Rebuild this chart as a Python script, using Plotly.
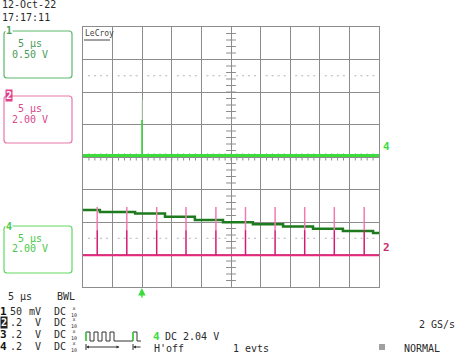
import plotly.graph_objects as go

W, H = 474, 355
GX0, GX1, GY0, GY1 = 83, 379, 27, 287  # graticule box (pixels)

# ---------------- data (screen divisions) ----------------
x_divisions = 10
y_divisions = 8

ch1_time = [0.0, 10.0]
ch1_level = [4.05, 4.05]
ch1_glitch_time = [1.99]
ch1_glitch_peak = [5.14]
ch1_glitch_ghost = [5.75]

ch4_time = [0.0, 0.57, 1.76, 2.77, 3.78, 4.73, 5.74, 6.76, 7.77, 8.78, 9.80, 10.0]
ch4_level = [2.37, 2.31, 2.26, 2.16, 2.06, 1.99, 1.93, 1.86, 1.79, 1.72, 1.66, 1.66]

ch2_time = [0.0, 10.0]
ch2_level = [0.98, 0.98]
ch2_pulse_time = [0.48, 1.48, 2.49, 3.48, 4.49, 5.49, 6.49, 7.49, 8.49, 9.50]
ch2_pulse_core = 1.75
ch2_pulse_peak = 2.46

ch1_offset_marker = 5.06
ch4_label_level = 4.31
ch2_label_level = 1.23
trigger_time = 1.99
cursor_levels = [6.5, 1.5]

date_text = "12-Oct-22"
clock_text = "17:17:11"
timebase_text = "5 µs"
box_scales = ["0.50 V", "2.00 V", "2.00 V"]
chan_rows = [("1", "50", "mV"), ("2", ".2", "V"), ("3", ".2", "V"), ("4", ".2", "V")]

# ---------------- colours ----------------
GRID = "#8c8c8c"
G1 = "#3ddc3d"
G4 = "#1d7a1d"
PINK = "#e8287e"
PINK_CORE = "#d41a72"
PINK_TOP = "#f27ab2"
TXT = "#2a2a2a"


def px(x):
    return x / W


def py(y):
    return 1 - y / H


def div_to_py(v):
    # vertical division -> paper fraction
    return py(GY1) + (py(GY0) - py(GY1)) * v / y_divisions


fig = go.Figure()

# graticule centre ticks
tick_pos_x = [i * 0.2 for i in range(1, x_divisions * 5)]
tick_pos_y = [i * 0.2 for i in range(1, y_divisions * 5)]
fig.add_trace(go.Scatter(x=tick_pos_x, y=[y_divisions / 2] * len(tick_pos_x), mode="markers",
                         marker=dict(symbol="line-ns", size=5, line=dict(width=1, color=GRID)),
                         hoverinfo="skip"))
fig.add_trace(go.Scatter(x=[x_divisions / 2] * len(tick_pos_y), y=tick_pos_y, mode="markers",
                         marker=dict(symbol="line-ew", size=7, line=dict(width=1, color=GRID)),
                         hoverinfo="skip"))

# dotted cursor lines
for lvl in cursor_levels:
    xs, ys = [], []
    for i in range(x_divisions):
        xs += [i + 0.17, i + 0.86, None]
        ys += [lvl, lvl, None]
    fig.add_trace(go.Scatter(x=xs, y=ys, mode="lines",
                             line=dict(color="#b4b4b4", width=1, dash="2px,4px"),
                             hoverinfo="skip"))

# channel 4 (dark green staircase)
fig.add_trace(go.Scatter(x=ch4_time, y=ch4_level, mode="lines", line_shape="hv",
                         line=dict(color=G4, width=2.5)))

# channel 2 baseline + pulses
fig.add_trace(go.Scatter(x=ch2_time, y=ch2_level, mode="lines", line=dict(color=PINK, width=2)))
sx, sy_core, sy_top = [], [], []
for t in ch2_pulse_time:
    sx += [t, t, None]
    sy_core += [ch2_level[0], ch2_pulse_core, None]
    sy_top += [ch2_pulse_core, ch2_pulse_peak, None]
fig.add_trace(go.Scatter(x=sx, y=sy_top, mode="lines", line=dict(color=PINK_TOP, width=1.5)))
fig.add_trace(go.Scatter(x=sx, y=sy_core, mode="lines", line=dict(color=PINK_CORE, width=1.5)))

# channel 1 (bright green)
fig.add_trace(go.Scatter(x=ch1_time, y=ch1_level, mode="lines", line=dict(color=G1, width=3)))
fig.add_trace(go.Scatter(x=ch1_glitch_time * 2, y=[ch1_glitch_peak[0], ch1_glitch_ghost[0]], mode="lines",
                         line=dict(color="#d4f4d4", width=1)))
fig.add_trace(go.Scatter(x=ch1_glitch_time * 2, y=[ch1_level[0], ch1_glitch_peak[0]], mode="lines",
                         line=dict(color=G1, width=1.5)))

# level markers outside the graticule
fig.add_trace(go.Scatter(x=[-0.11], y=[ch1_offset_marker], mode="markers", cliponaxis=False,
                         marker=dict(symbol="triangle-right", size=6, color=G1)))
fig.add_trace(go.Scatter(x=[x_divisions + 0.11], y=[ch1_offset_marker], mode="markers", cliponaxis=False,
                         marker=dict(symbol="triangle-left", size=6, color=G1)))

fig.update_layout(
    width=W, height=H, margin=dict(l=0, r=0, t=0, b=0),
    paper_bgcolor="white", plot_bgcolor="white", showlegend=False,
    xaxis=dict(domain=[px(GX0), px(GX1)], range=[0, x_divisions], dtick=1, tick0=0,
               showgrid=True, gridcolor=GRID, gridwidth=1, showticklabels=False, ticks="",
               zeroline=False, showline=True, linecolor=GRID, linewidth=1, mirror=True, fixedrange=True),
    yaxis=dict(domain=[py(GY1), py(GY0)], range=[0, y_divisions], dtick=1, tick0=0,
               showgrid=True, gridcolor=GRID, gridwidth=1, showticklabels=False, ticks="",
               zeroline=False, showline=True, linecolor=GRID, linewidth=1, mirror=True, fixedrange=True),
)

FONT = "DejaVu Sans Mono"
anns = []
shapes = []


def txt(text, x, y, color=TXT, size=10, xanchor="left", bg=None, yanchor="middle"):
    d = dict(text=text, x=px(x), y=py(y), xref="paper", yref="paper", showarrow=False,
             xanchor=xanchor, yanchor=yanchor, font=dict(family=FONT, size=size, color=color),
             borderpad=0)
    if bg:
        d["bgcolor"] = bg
    anns.append(d)


def rbox(x0, y0, x1, y1, color, r=3):
    rx, ry = r / W, r / H
    X0, X1, Y0, Y1 = px(x0), px(x1), py(y0), py(y1)
    path = (f"M {X0+rx},{Y0} L {X1-rx},{Y0} Q {X1},{Y0} {X1},{Y0-ry} "
            f"L {X1},{Y1+ry} Q {X1},{Y1} {X1-rx},{Y1} L {X0+rx},{Y1} Q {X0},{Y1} {X0},{Y1+ry} "
            f"L {X0},{Y0-ry} Q {X0},{Y0} {X0+rx},{Y0} Z")
    shapes.append(dict(type="path", path=path, xref="paper", yref="paper",
                       line=dict(color=color, width=1.2)))


# date/time
txt(date_text, 1, 5)
txt(clock_text, 1, 17)

# channel boxes
box_specs = [
    (31, 78, "#5db86d", "#4a9c5a", "1", box_scales[0]),
    (96, 143, "#ea78aa", "#d8478a", "2", box_scales[1]),
    (226, 273, "#62d862", "#48c848", "4", box_scales[2]),
]
for (y0, y1, bc, tc, lab, sc) in box_specs:
    rbox(4, y0, 72, y1, bc)
    txt(timebase_text, 30, y0 + 12, color=tc, xanchor="center")
    txt(sc, 30, y0 + 23, color=tc, xanchor="center")
    if lab == "2":
        txt("<b>2</b>", 8.5, y0 - 0.5, color="white", bg="#e0408a", xanchor="center", size=10)
    else:
        txt("<b>" + lab + "</b>", 8.5, y0, color=tc, bg="white", xanchor="center", size=10)

# LeCroy logo
txt("LeCroy", 84, 34, color="#444", size=8)
shapes.append(dict(type="line", xref="paper", yref="paper", x0=px(84), x1=px(110), y0=py(40), y1=py(40),
                   line=dict(color="#444", width=1)))

# right side labels
anns.append(dict(text="<b>4</b>", x=px(GX1 + 2), y=div_to_py(ch4_label_level), xref="paper", yref="paper",
                 showarrow=False, xanchor="left", yanchor="middle",
                 font=dict(family=FONT, size=11, color=G1)))
anns.append(dict(text="<b>2</b>", x=px(GX1 + 2), y=div_to_py(ch2_label_level), xref="paper", yref="paper",
                 showarrow=False, xanchor="left", yanchor="middle",
                 font=dict(family=FONT, size=11, color="#c8306a")))

# trigger position arrow below graticule
anns.append(dict(text="", x=trigger_time, y=0, xref="x", yref="y", ax=0, ay=12, showarrow=True,
                 arrowhead=2, arrowsize=1, arrowwidth=1.5, arrowcolor=G1, standoff=1))

# bottom-left channel setup table
txt(timebase_text, 7, 296)
txt("BWL", 76, 296, xanchor="right")
row_y = [311, 322, 334, 346]
for (num, val, unit), yy in zip(chan_rows, row_y):
    if num == "2":
        txt("<b>2</b>", 3.5, yy, color="white", bg="#222", xanchor="center", size=10)
    else:
        txt("<b>" + num + "</b>", 3.5, yy, color="#111", xanchor="center", size=11)
    txt(val, 23, yy, xanchor="right")
    txt(unit, 42, yy, xanchor="right")
    txt("DC", 53, yy)
    txt("x<br>10", 70, yy, size=5)

# trigger pulse icon
lo, hi = 341, 332
pts = [(86, lo), (86, hi), (90, hi), (90, lo), (94, lo), (94, hi), (98, hi), (98, lo), (102, lo), (102, hi),
       (106, hi), (106, lo), (110, lo), (110, hi), (114, hi), (114, lo), (133, lo), (133, hi), (137, hi),
       (137, lo), (141, lo)]
path = "M " + " L ".join(f"{px(a)},{py(b)}" for a, b in pts)
shapes.append(dict(type="path", path=path, xref="paper", yref="paper", line=dict(color="#333", width=1)))
for xe in (86, 133):
    shapes.append(dict(type="line", xref="paper", yref="paper", x0=px(xe), x1=px(xe), y0=py(lo), y1=py(hi),
                       line=dict(color=G1, width=1.5)))
# holdoff arrows
anns.append(dict(text="", x=px(86), y=py(347), xref="paper", yref="paper", ax=35, ay=0, showarrow=True,
                 arrowhead=2, arrowside="end+start", arrowsize=0.6, arrowwidth=1, arrowcolor="#333"))
anns.append(dict(text="", x=px(133), y=py(347), xref="paper", yref="paper", ax=9, ay=0, showarrow=True,
                 arrowhead=2, arrowsize=0.6, arrowwidth=1, arrowcolor="#333"))
for xe in (86, 133):
    shapes.append(dict(type="line", xref="paper", yref="paper", x0=px(xe), x1=px(xe), y0=py(344), y1=py(350),
                       line=dict(color="#333", width=1)))

# trigger info
txt("<b>4</b>", 152, 336, color=G1, size=11)
txt("DC 2.04 V", 164, 336)
txt("H'off", 153, 348)
txt("1 evts", 232, 348)
txt("2 GS/s", 456, 324, xanchor="right")
txt("NORMAL", 403, 348)
shapes.append(dict(type="rect", xref="paper", yref="paper", x0=px(379), x1=px(385), y0=py(350), y1=py(344),
                   fillcolor="#a0a0a0", line=dict(width=0)))

fig.update_layout(annotations=anns, shapes=shapes)
fig.write_html("out.html")
